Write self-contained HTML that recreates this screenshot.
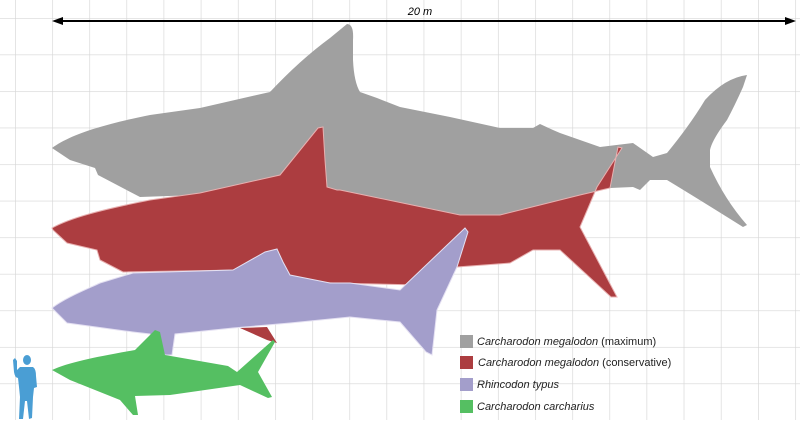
<!DOCTYPE html>
<html><head><meta charset="utf-8"><style>
html,body{margin:0;padding:0;background:#fff;width:800px;height:428px;overflow:hidden}
svg{display:block}
</style></head><body>
<svg width="800" height="428" viewBox="0 0 800 428" xmlns="http://www.w3.org/2000/svg">
<defs>
<pattern id="g" x="15" y="18" width="37.15" height="36.55" patternUnits="userSpaceOnUse">
<path d="M0 0 V36.55 M0 0 H37.15" stroke="#d6d6d6" stroke-width="1.3" fill="none"/>
</pattern>
</defs>
<rect width="800" height="428" fill="#fff"/>
<rect x="0" y="0" width="800" height="420" fill="url(#g)"/>

<!-- gray megalodon -->
<path fill="#a0a0a0" d="M52,148 C70,135 100,125 150,115 L200,108 L270,92 Q300,60 330,38 L347,24 Q354,24 353,40 L353,60 Q354,82 360,92 L377,98 L400,107 L450,117 L500,128 L533,128 L540,124 L553,130 L560,133 L600,147 L633,143 L643,150 L653,157 L667,153 Q690,125 705,100 Q725,78 747,75 L743,87 Q735,105 727,120 Q712,140 710,150 L710,167 Q725,200 747,225 L743,227 Q700,200 667,180 L650,180 L640,190 L633,187 L610,188 L580,195 L540,205 L500,215 L460,215 L340,190 L140,197 L98,175 L95,168 L70,160 Z"/>

<!-- red megalodon -->
<path fill="#ac3d40" stroke="#e8b0b0" stroke-width="1" d="M52,228 C70,218 100,210 150,200 L200,193 L280,175 L318,128 L323,127 L325,160 L327,187 L337,190 L340,190 L460,215 L500,215 L540,205 L580,195 L610,188 L618,147 L622,148 L597,187 L580,227 L617,297 L611,297 L560,250 L533,250 L510,263 L457,267 L443,283 L420,285 L333,283 L300,282 L290,280 L270,255 L240,270 L123,272 L100,260 L97,250 L67,243 L53,230 Z"/>
<path fill="#ac3d40" d="M240,328 L267,327 L277,343 L267,340 Z"/>

<!-- purple whale shark -->
<path fill="#a39ecb" stroke="#e4e0f2" stroke-width="1" d="M52,308 C65,298 85,290 100,283 L133,273 L233,270 L265,252 L277,249 L283,262 L290,275 L330,283 L350,283 L400,290 L465,228 L468,232 L457,267 L437,310 L432,355 L426,352 L400,322 L350,317 L290,323 L233,328 L175,334 L172,355 L165,355 L150,334 L133,332 L67,323 Z"/>

<!-- green great white -->
<path fill="#55bf62" d="M52,370 C70,362 95,357 135,350 L155,330 L160,332 L165,355 L228,366 L237,372 L273,340 L275,342 L258,372 L272,397 L268,398 L240,385 L205,390 L170,395 L135,396 L138,415 L133,415 L120,400 L70,380 Z"/>

<!-- human -->
<g fill="#4a9ed4">
<ellipse cx="27" cy="360" rx="4" ry="5"/>
<path d="M20,367 L33,367 Q36,369 36,376 L37,387 L34,388 L33,397 L32,418 L29,419 L27,401 L25,401 L23,419 L19,419 L20,397 L19,387 L18,378 Q15,378 14,372 L13,360 L15,358 L17,361 L17,370 Z"/>
</g>

<!-- arrow -->
<line x1="60" y1="21" x2="788" y2="21" stroke="#000" stroke-width="2"/>
<path d="M52,21 L63,17 L63,25 Z" fill="#000"/>
<path d="M796,21 L785,17 L785,25 Z" fill="#000"/>
<text x="420" y="15" font-family="Liberation Sans, sans-serif" font-style="italic" font-size="11" text-anchor="middle">20 m</text>

<!-- legend -->
<g font-family="Liberation Sans, sans-serif" font-size="11" fill="#222">
<rect x="460" y="335" width="13" height="13" fill="#a0a0a0"/>
<text x="477" y="345"><tspan font-style="italic">Carcharodon megalodon</tspan> (maximum)</text>
<rect x="460" y="356" width="13" height="13" fill="#ac3d40"/>
<text x="478" y="366"><tspan font-style="italic">Carcharodon megalodon</tspan> (conservative)</text>
<rect x="460" y="378" width="13" height="13" fill="#a39ecb"/>
<text x="477" y="388" font-style="italic">Rhincodon typus</text>
<rect x="460" y="400" width="13" height="13" fill="#55bf62"/>
<text x="477" y="410" font-style="italic">Carcharodon carcharius</text>
</g>
</svg>
</body></html>
